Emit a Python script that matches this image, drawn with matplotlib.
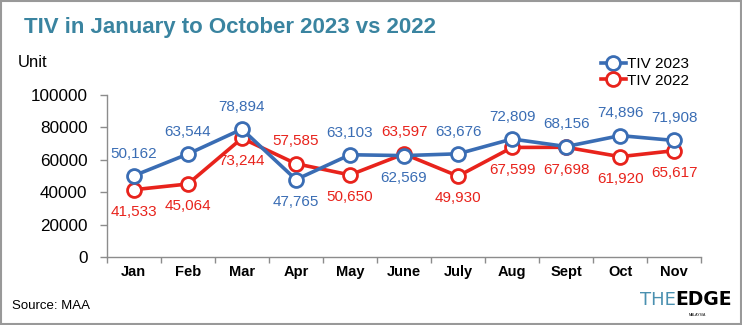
import matplotlib.pyplot as plt
from matplotlib.patches import Rectangle

plt.rcParams['font.family'] = ['Liberation Sans', 'DejaVu Sans']

# Datos
meses = ['Jan', 'Feb', 'Mar', 'Apr', 'May', 'June', 'July', 'Aug', 'Sept', 'Oct', 'Nov']
tiv_2023 = [50162, 63544, 78894, 47765, 63103, 62569, 63676, 72809, 68156, 74896, 71908]
tiv_2022 = [41533, 45064, 73244, 57585, 50650, 63597, 49930, 67599, 67698, 61920, 65617]
# posicion de la etiqueta: 1 arriba, -1 abajo
pos_2023 = [1, 1, 1, -1, 1, -1, 1, 1, 1, 1, 1]
pos_2022 = [-1, -1, -1, 1, -1, 1, -1, -1, -1, -1, -1]

azul = '#3a6db4'
rojo = '#e8231c'
gris = '#8c8c8c'

fig = plt.figure(figsize=(7.42, 3.25), dpi=100)
ax = fig.add_axes([0.144, 0.209, 0.801, 0.499])

x = list(range(len(meses)))
ax.plot(x, tiv_2023, color=azul, lw=2.6, marker='o', ms=10, mfc='white',
        mec=azul, mew=2, label='TIV 2023', zorder=3)
ax.plot(x, tiv_2022, color=rojo, lw=2.6, marker='o', ms=10, mfc='white',
        mec=rojo, mew=2, label='TIV 2022', zorder=2)

for xi, v, p in zip(x, tiv_2023, pos_2023):
    ax.annotate(f'{v:,}', (xi, v), xytext=(0, 16 * p), textcoords='offset points',
                ha='center', va='center', color=azul, fontsize=11)
for xi, v, p in zip(x, tiv_2022, pos_2022):
    ax.annotate(f'{v:,}', (xi, v), xytext=(0, 16 * p), textcoords='offset points',
                ha='center', va='center', color=rojo, fontsize=11)

ax.set_xlim(-0.5, len(meses) - 0.5)
ax.set_ylim(0, 100000)
ax.set_yticks(range(0, 100001, 20000))
ax.set_xticks(x)
ax.set_xticklabels(meses, fontweight='bold', fontsize=10.5)
ax.set_xticks([i - 0.5 for i in range(len(meses) + 1)], minor=True)
ax.tick_params(axis='x', which='major', length=0, pad=6)
ax.tick_params(axis='x', which='minor', length=4, color=gris, width=1)
ax.tick_params(axis='y', length=5, color=gris, width=1, labelsize=12.3, pad=9)

for s in ['top', 'right']:
    ax.spines[s].set_visible(False)
for s in ['left', 'bottom']:
    ax.spines[s].set_color(gris)
    ax.spines[s].set_linewidth(1)

leg = ax.legend(loc='upper right', bbox_to_anchor=(0.99, 1.27), frameon=False,
                fontsize=11, handlelength=1.6, handletextpad=0.1,
                labelspacing=0.15, borderaxespad=0)

fig.text(0.032, 0.915, 'TIV in January to October 2023 vs 2022', fontsize=16,
         fontweight='bold', color='#3a84a0', va='center')
fig.text(0.024, 0.808, 'Unit', fontsize=12, va='center')
fig.text(0.016, 0.058, 'Source: MAA', fontsize=9.5, va='center')

# logo
fig.text(0.862, 0.078, 'THE', fontsize=13, color='#4a90b0', va='center',
         family='Liberation Sans Narrow')
fig.text(0.910, 0.078, 'EDGE', fontsize=13.5, color='black', fontweight='bold',
         va='center', family='Liberation Sans Narrow')
fig.text(0.940, 0.030, 'MALAYSIA', fontsize=2.5, color='black', ha='center',
         va='center')

fig.patches.append(Rectangle((0.001, 0.002), 0.997, 0.995, transform=fig.transFigure,
                             fill=False, edgecolor='#999999', lw=1.5))

fig.savefig('out.png', dpi=100)
